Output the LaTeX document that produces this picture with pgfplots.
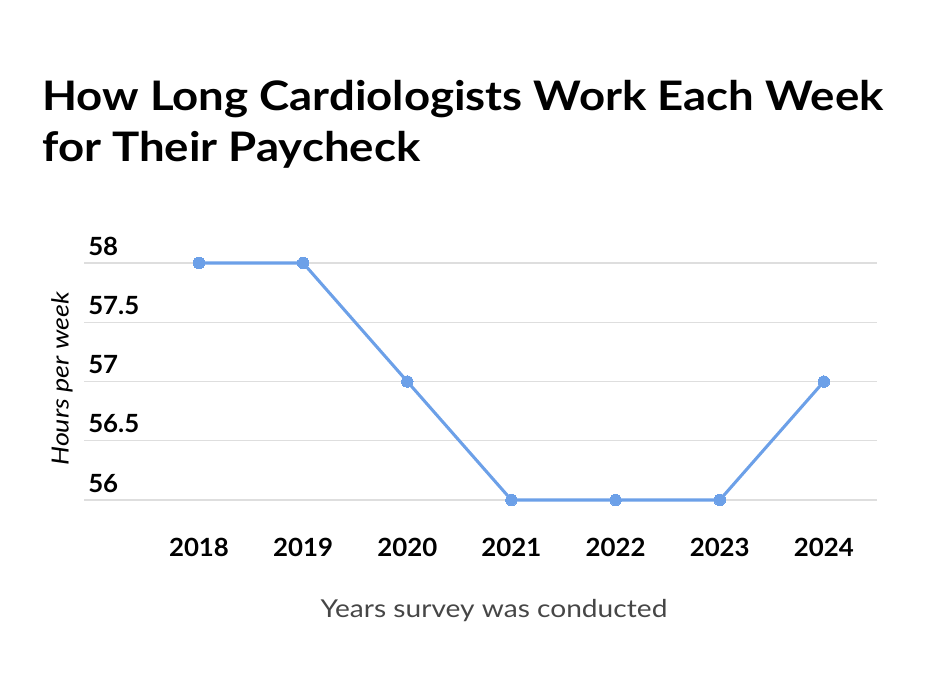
\documentclass[border=0pt]{standalone}
\usepackage{pgfplots}
\pgfplotsset{compat=1.18}
\usepackage{fontspec}
\setmainfont{Lato}
\newfontfamily\widefont{Lato}[FakeStretch=1.12]
\newfontfamily\widerfont{Lato}[FakeStretch=1.14]
\newfontfamily\tickfont{Lato Bold}[FakeStretch=1.03]
\definecolor{lineblue}{RGB}{108,160,232}
\definecolor{gridgray}{RGB}{222,222,222}
\definecolor{labgray}{RGB}{70,70,70}
\begin{document}
\begin{tikzpicture}
\path (0pt,0pt) rectangle (705.75pt,-517.5pt);
\node[anchor=base west, inner sep=0pt, font=\widefont\fontsize{30.5}{35}\selectfont\bfseries] at (31.5pt,-82.5pt) {How Long Cardiologists Work Each Week};
\node[anchor=base west, inner sep=0pt, font=\widefont\fontsize{30.5}{35}\selectfont\bfseries] at (31.5pt,-120.75pt) {for Their Paycheck};
\node[anchor=base, inner sep=0pt, text=labgray, font=\widerfont\fontsize{18.5}{21}\selectfont] at (370.5pt,-462.75pt) {Years survey was conducted};
\node[rotate=90, inner sep=0pt, font=\widerfont\fontsize{17.7}{21}\selectfont\itshape] at (46.5pt,-284.25pt) {Hours per week};
\begin{axis}[
  at={(63pt,-375pt)}, anchor=south west,
  scale only axis, width=594.75pt, height=177.75pt,
  xmin=2016.896, xmax=2024.51, ymin=56, ymax=58,
  axis line style={draw=none}, clip=false,
  ymajorgrids, grid style={gridgray, line width=0.8pt},
  ytick={56,56.5,57,57.5,58},
  xtick={2018,2019,2020,2021,2022,2023,2024},
  /pgf/number format/assume math mode=true,
  xticklabel style={/pgf/number format/1000 sep={}, anchor=base, yshift=-42pt, font=\tickfont\fontsize{18.8}{22}\selectfont},
  yticklabel style={/pgf/number format/fixed, anchor=base west, inner sep=0pt, xshift=3pt, yshift=6pt, font=\tickfont\fontsize{18.8}{22}\selectfont},
  major tick length=0pt, tick style={draw=none},
]
\addplot[lineblue, line width=2.3pt, mark=*, mark size=4.3pt, mark options={fill=lineblue, draw=lineblue, line width=0pt}] coordinates {
  (2018,58) (2019,58) (2020,57) (2021,56) (2022,56) (2023,56) (2024,57)
};
\end{axis}
\end{tikzpicture}
\end{document}
